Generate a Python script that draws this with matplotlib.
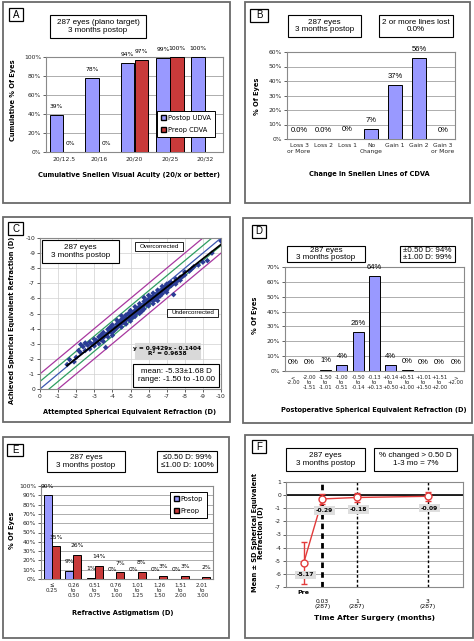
import matplotlib
matplotlib.use('Agg')
import matplotlib.pyplot as plt
from matplotlib.patches import Rectangle, Patch
import matplotlib.transforms as mtrans
import numpy as np

# ---------------- data ----------------
a_cats = ['20/12.5', '20/16', '20/20', '20/25', '20/32']
a_postop = [39, 78, 94, 99, 100]
a_preop = [0, 0, 97, 100, np.nan]
a_postop_lbl = ['39%', '78%', '94%', '99%', '100%']
a_preop_lbl = ['0%', '0%', '97%', '100%', '']

b_cats = ['Loss 3\nor More', 'Loss 2', 'Loss 1', 'No\nChange', 'Gain 1', 'Gain 2', 'Gain 3\nor More']
b_vals = [0, 0, 0.3, 7, 37, 56, 0]
b_lbls = ['0.0%', '0.0%', '0%', '7%', '37%', '56%', '0%']

c_att = [-1.50, -1.63, -1.88, -2.00, -2.13, -2.25, -2.25, -2.38, -2.50, -2.50, -2.63, -2.75, -2.75, -2.88,
         -3.00, -3.00, -3.00, -3.13, -3.25, -3.25, -3.38, -3.38, -3.50, -3.50, -3.50, -3.63, -3.63, -3.75,
         -3.75, -3.75, -3.88, -3.88, -4.00, -4.00, -4.00, -4.00, -4.13, -4.13, -4.25, -4.25, -4.25, -4.38,
         -4.38, -4.50, -4.50, -4.50, -4.50, -4.63, -4.63, -4.75, -4.75, -4.75, -4.75, -4.88, -4.88, -5.00,
         -5.00, -5.00, -5.00, -5.00, -5.13, -5.13, -5.25, -5.25, -5.25, -5.25, -5.38, -5.38, -5.50, -5.50,
         -5.50, -5.50, -5.50, -5.63, -5.63, -5.75, -5.75, -5.75, -5.75, -5.88, -5.88, -6.00, -6.00, -6.00,
         -6.00, -6.00, -6.13, -6.13, -6.25, -6.25, -6.25, -6.25, -6.38, -6.38, -6.50, -6.50, -6.50, -6.50,
         -6.63, -6.63, -6.75, -6.75, -6.75, -6.88, -6.88, -7.00, -7.00, -7.00, -7.00, -7.13, -7.13, -7.25,
         -7.25, -7.38, -7.38, -7.50, -7.50, -7.50, -7.63, -7.75, -7.75, -7.88, -8.00, -8.00, -8.25, -8.38,
         -8.50, -8.75, -9.00, -9.25, -9.50, -10.00]
c_ach = [-1.62, -1.95, -1.80, -2.10, -2.55, -2.95, -2.40, -2.80, -3.05, -2.55, -2.90, -3.10, -2.65, -2.95,
         -3.30, -2.85, -3.05, -3.20, -3.00, -3.45, -3.60, -3.25, -3.40, -3.75, -3.15, -3.55, -2.75, -3.70,
         -3.95, -3.45, -3.80, -4.10, -3.75, -4.00, -4.25, -3.55, -4.05, -3.90, -4.30, -4.05, -4.55, -4.20,
         -4.45, -4.35, -4.60, -4.10, -4.85, -4.40, -4.70, -4.55, -4.30, -4.90, -4.70, -4.65, -5.00, -4.70,
         -4.95, -5.20, -4.50, -4.85, -5.05, -4.75, -4.95, -5.20, -5.45, -4.80, -5.10, -5.35, -5.20, -5.45,
         -5.00, -5.65, -5.30, -5.40, -5.15, -5.55, -5.30, -5.80, -6.05, -5.60, -5.85, -5.70, -5.95, -5.50,
         -6.20, -5.80, -5.90, -6.10, -5.85, -6.10, -6.35, -5.65, -6.15, -5.95, -6.05, -6.30, -6.55, -5.85,
         -6.35, -6.15, -6.30, -6.55, -6.80, -6.50, -6.70, -6.55, -6.80, -6.95, -6.40, -6.75, -7.00, -6.85,
         -7.05, -6.25, -7.00, -7.10, -7.30, -6.95, -7.20, -7.40, -7.20, -7.45, -7.55, -7.75, -7.80, -7.95,
         -8.10, -8.20, -8.40, -8.50, -9.00, -9.80]
c_slope = 0.9429
c_int = -0.1404
c_ticks = [0, -1, -2, -3, -4, -5, -6, -7, -8, -9, -10]

d_cats = ['<\n-2.00', '-2.00\nto\n-1.51', '-1.50\nto\n-1.01', '-1.00\nto\n-0.51', '-0.50\nto\n-0.14',
          '-0.13\nto\n+0.13', '+0.14\nto\n+0.50', '+0.51\nto\n+1.00', '+1.01\nto\n+1.50', '+1.51\nto\n+2.00',
          '>\n+2.00']
d_vals = [0, 0, 1, 4, 26, 64, 4, 0.4, 0, 0, 0]
d_lbls = ['0%', '0%', '1%', '4%', '26%', '64%', '4%', '0%', '0%', '0%', '0%']

e_cats = ['≤\n0.25', '0.26\nto\n0.50', '0.51\nto\n0.75', '0.76\nto\n1.00', '1.01\nto\n1.25',
          '1.26\nto\n1.50', '1.51\nto\n2.00', '2.01\nto\n3.00']
e_postop = [90, 9, 1, 0, 0, 0, 0, 0]
e_preop = [35, 26, 14, 7, 8, 3, 3, 2]
e_postop_lbl = ['90%', '9%', '1%', '0%', '0%', '0%', '0%', '']
e_preop_lbl = ['35%', '26%', '14%', '7%', '8%', '3%', '3%', '2%']

f_x = [-0.5, 0.03, 1, 3]
f_mean = [-5.17, -0.29, -0.18, -0.09]
f_sd = [1.58, 0.38, 0.33, 0.32]
f_lbls = ['-5.17', '-0.29', '-0.18', '-0.09']
f_ticklbls = ['Pre', '0.03\n(287)', '1\n(287)', '3\n(287)']

# ---------------- styling ----------------
W, H = 474, 641
fig = plt.figure(figsize=(W / 100, H / 100), dpi=100)
fig.patch.set_facecolor('white')

LAV = '#9999FF'
RED = '#C83A3A'
GRID = '#a0a0a0'
SPINE = '#8a8a8a'
TICK_FS = 4.3
LAB_FS = 4.8
ARIAL = 'Liberation Sans'


def rect(x0, y0, x1, y1):
    return [x0 / W, 1 - y1 / H, (x1 - x0) / W, (y1 - y0) / H]


def frame(x0, y0, x1, y1, ec='#6a6a6a', lw=1.3, fc=None, z=0.5):
    fig.patches.append(Rectangle((x0 / W, 1 - y1 / H), (x1 - x0) / W, (y1 - y0) / H,
                                 transform=fig.transFigure, fill=fc is not None,
                                 facecolor=fc if fc else 'none', edgecolor=ec, lw=lw, zorder=z))


def box(x0, y0, x1, y1, text, fs=5.8, fc='white', ec='black', lw=0.8, weight='normal', family=ARIAL):
    frame(x0, y0, x1, y1, ec=ec, lw=lw, fc=fc, z=5)
    fig.text((x0 + x1) / 2 / W, 1 - (y0 + y1) / 2 / H, text, ha='center', va='center',
             fontsize=fs, family=family, weight=weight, linespacing=1.15, zorder=6)


def letter(x0, y0, x1, y1, t):
    box(x0, y0, x1, y1, t, fs=7, lw=0.9)


def ftext(x, y, t, rot=0, fs=LAB_FS, **kw):
    fig.text(x / W, 1 - y / H, t, ha='center', va='center', rotation=rot, fontsize=fs,
             weight='bold', family='DejaVu Sans', zorder=6, **kw)


def style(ax, ylim, yticks, ylabels):
    ax.set_ylim(*ylim)
    ax.set_yticks(yticks)
    ax.set_yticklabels(ylabels)
    ax.yaxis.grid(True, color=GRID, lw=0.6)
    ax.set_axisbelow(True)
    for s in ax.spines.values():
        s.set_color(SPINE)
        s.set_linewidth(0.8)
    ax.tick_params(axis='both', labelsize=TICK_FS, length=2, width=0.5, pad=1.5, colors='#222222')
    ax.tick_params(axis='x', length=0, pad=3)


# ---------------- panel A ----------------
frame(3, 2, 230, 203)
letter(9, 8, 23, 21, 'A')
box(50, 15, 146, 38, '287 eyes (plano target)\n3 months postop')
ax = fig.add_axes(rect(46, 57, 223, 152))
xa = np.arange(len(a_cats))
ax.bar(xa - 0.2, a_postop, 0.38, color=LAV, edgecolor='black', lw=0.7, zorder=3)
pre = np.array(a_preop, dtype=float)
m = pre > 0
ax.bar(xa[m] + 0.2, pre[m], 0.38, color=RED, edgecolor='black', lw=0.7, zorder=3)
style(ax, (0, 100), range(0, 101, 20), [f'{v}%' for v in range(0, 101, 20)])
ax.set_xlim(-0.5, 4.5)
ax.set_xticks(xa)
ax.set_xticklabels(a_cats)
for i in range(len(a_cats)):
    ax.text(xa[i] - 0.2, a_postop[i] + 9, a_postop_lbl[i], ha='center', va='center', fontsize=4.3, clip_on=False)
    if a_preop_lbl[i]:
        ax.text(xa[i] + 0.2, (0 if np.isnan(pre[i]) else pre[i]) + 9, a_preop_lbl[i], ha='center', va='center',
                fontsize=4.3, clip_on=False)
leg = ax.legend(handles=[Patch(facecolor=LAV, edgecolor='black', label='Postop UDVA'),
                         Patch(facecolor=RED, edgecolor='black', label='Preop CDVA')],
                loc='center', bbox_to_anchor=(0.79, 0.295), fontsize=4.8, frameon=True, fancybox=False,
                edgecolor='black', framealpha=1, handlelength=0.7, handleheight=0.7, handletextpad=0.3,
                borderpad=0.6, labelspacing=0.9)
leg.get_frame().set_linewidth(0.7)
ftext(129, 175, 'Cumulative Snellen Visual Acuity (20/x or better)')
ftext(13, 100, 'Cumulative % Of Eyes', rot=90)

# ---------------- panel B ----------------
frame(245, 2, 470, 203)
letter(250, 9, 268, 22, 'B')
box(288, 15, 361, 37, '287 eyes\n3 months postop')
box(379, 15, 453, 37, '2 or more lines lost\n0.0%')
ax = fig.add_axes(rect(287, 52, 455, 139))
xb = np.arange(len(b_cats))
ax.bar(xb, b_vals, 0.62, color=LAV, edgecolor='black', lw=0.7, zorder=3)
style(ax, (0, 60), range(0, 61, 10), [f'{v}%' for v in range(0, 61, 10)])
ax.set_xlim(-0.5, 6.5)
ax.set_xticks(xb)
ax.set_xticklabels(b_cats, linespacing=1.1)
for i in range(len(b_cats)):
    ax.text(xb[i], b_vals[i] + 6, b_lbls[i], ha='center', va='center', fontsize=5.5, family=ARIAL,
            clip_on=False)
ftext(369, 174, 'Change in Snellen Lines of CDVA')
ftext(257, 96, '% Of Eyes', rot=90)

# ---------------- panel C ----------------
frame(3, 217, 230, 422)
letter(8, 222, 23, 235, 'C')
ax = fig.add_axes(rect(40, 238, 221, 389))
ax.set_xlim(0, -10)
ax.set_ylim(0, -10)
ax.set_xticks(c_ticks)
ax.set_yticks(c_ticks)
ax.set_xticklabels([str(t) for t in c_ticks])
ax.set_yticklabels([str(t) for t in c_ticks])
ax.grid(True, color='#d0d0d0', lw=0.5)
ax.set_axisbelow(True)
for s in ax.spines.values():
    s.set_color(SPINE)
    s.set_linewidth(0.8)
ax.tick_params(axis='both', labelsize=TICK_FS, length=2, width=0.5, pad=1.5, colors='#222222')
for off, col in [(1.0, '#A8379F'), (-1.0, '#A8379F'), (0.5, '#2E9E60'), (-0.5, '#2E9E60'), (0.0, '#3A56B0')]:
    ax.axline((0, off), (-10, -10 + off), color=col, lw=0.9, zorder=2)
ax.scatter(c_att, c_ach, marker='D', s=8, color='#2A3C95', edgecolors='none', zorder=3)
xr = np.array([min(c_att), max(c_att)])
ax.plot(xr, c_slope * xr + c_int, color='black', lw=1.3, zorder=4)
box(42, 240, 119, 263, '287 eyes\n3 months postop')
box(135, 242, 183, 251, 'Overcorrected', fs=4.5, lw=0.6)
box(167, 309, 218, 317, 'Undercorrected', fs=4.5, lw=0.6)
box(135, 343, 200, 359, f'y = {c_slope}x - {abs(c_int)}\nR² = 0.9638', fs=4.2, fc='#d9d9d9', ec='#d9d9d9',
    weight='bold', family='DejaVu Sans')
box(133, 364, 219, 387, 'mean: -5.33±1.68 D\nrange: -1.50 to -10.00', fs=5.8)
ftext(130, 412, 'Attempted Spherical Equivalent Refraction (D)')
ftext(12, 320, 'Achieved Spherical Equivalent Refraction (D)', rot=90)

# ---------------- panel D ----------------
frame(243, 218, 472, 423)
letter(252, 225, 266, 238, 'D')
box(287, 246, 365, 262, '287 eyes\n3 months postop')
box(400, 246, 455, 262, '±0.50 D: 94%\n±1.00 D: 99%')
ax = fig.add_axes(rect(285, 267, 464, 371))
xd = np.arange(len(d_cats))
ax.bar(xd, d_vals, 0.68, color=LAV, edgecolor='black', lw=0.7, zorder=3)
style(ax, (0, 70), range(0, 71, 10), [f'{v}%' for v in range(0, 71, 10)])
ax.set_xlim(-0.5, 10.5)
ax.set_xticks(xd)
ax.set_xticklabels(d_cats, fontsize=3.8, linespacing=1.0)
for i in range(len(d_cats)):
    ax.text(xd[i], d_vals[i] + 5.8, d_lbls[i], ha='center', va='center', fontsize=5.5, family=ARIAL,
            clip_on=False)
ftext(374, 410, 'Postoperative Spherical Equivalent Refraction (D)')
ftext(255, 315, '% Of Eyes', rot=90)

# ---------------- panel E ----------------
frame(3, 437, 229, 638)
letter(7, 444, 23, 456, 'E')
box(47, 451, 125, 472, '287 eyes\n3 months postop')
box(157, 451, 217, 472, '≤0.50 D: 99%\n≤1.00 D: 100%')
ax = fig.add_axes(rect(41, 486, 213, 579))
xe = np.arange(len(e_cats))
ax.bar(xe - 0.19, e_postop, 0.38, color=LAV, edgecolor='black', lw=0.7, zorder=3)
ax.bar(xe + 0.19, e_preop, 0.38, color=RED, edgecolor='black', lw=0.7, zorder=3)
style(ax, (0, 100), range(0, 101, 10), [f'{v}%' for v in range(0, 101, 10)])
ax.set_xlim(-0.5, 7.5)
ax.set_xticks(xe)
ax.set_xticklabels(e_cats, fontsize=4.0, linespacing=1.0)
for i in range(len(e_cats)):
    if e_postop_lbl[i]:
        ax.text(xe[i] - 0.19, e_postop[i] + 10, e_postop_lbl[i], ha='center', va='center', fontsize=4.3,
                clip_on=False)
    ax.text(xe[i] + 0.19, e_preop[i] + 10, e_preop_lbl[i], ha='center', va='center', fontsize=4.3,
            clip_on=False)
leg = ax.legend(handles=[Patch(facecolor=LAV, edgecolor='black', label='Postop'),
                         Patch(facecolor=RED, edgecolor='black', label='Preop')],
                loc='center', bbox_to_anchor=(0.858, 0.796), fontsize=4.8, frameon=True, fancybox=False,
                edgecolor='black', framealpha=1, handlelength=0.7, handleheight=0.7, handletextpad=0.3,
                borderpad=0.6, labelspacing=0.9)
leg.get_frame().set_linewidth(0.7)
ftext(123, 613, 'Refractive Astigmatism (D)')
ftext(12, 530, '% Of Eyes', rot=90)

# ---------------- panel F ----------------
frame(245, 435, 473, 638)
letter(252, 440, 266, 453, 'F')
box(286, 448, 365, 471, '287 eyes\n3 months postop')
box(374, 448, 457, 471, '% changed > 0.50 D\n1-3 mo = 7%')
ax = fig.add_axes(rect(286, 482, 463, 587))
style(ax, (-7, 1), range(-7, 2), [str(v) for v in range(-7, 2)])
ax.set_xlim(-1, 4)
ax.set_xticks([])
ax.axhline(0, color='black', lw=1.2, zorder=2)
for xv, lw in zip(f_x[1:], [2.0, 1.0, 1.0]):
    ax.axvline(xv, color='black', lw=lw, ls=(0, (2, 1.5)), zorder=2)
ax.errorbar(f_x, f_mean, yerr=f_sd, color='#E23B3B', lw=1.0, capsize=2, capthick=0.8, marker='o', ms=5,
            mfc='white', mec='#E23B3B', mew=1.0, zorder=4)
for xv, mv, lb in zip(f_x, f_mean, f_lbls):
    ax.text(xv + 0.05, mv - 0.9, lb, ha='center', va='center', fontsize=4.3, weight='bold', zorder=5,
            bbox=dict(boxstyle='square,pad=0.3', fc='#dedede', ec='none'))
trans = mtrans.blended_transform_factory(ax.transData, ax.transAxes)
for xv, lb in zip(f_x, f_ticklbls):
    if lb == 'Pre':
        ax.text(xv, -0.05, lb, transform=trans, ha='center', va='center', fontsize=4.5, weight='bold')
    else:
        ax.text(xv, -0.16, lb, transform=trans, ha='center', va='center', fontsize=4.3, linespacing=1.1)
ftext(374, 618, 'Time After Surgery (months)', fs=5.3)
ftext(258, 533, 'Mean ± SD Spherical Equivalent\nRefraction (D)', rot=90, linespacing=1.2)

fig.savefig('out.png', dpi=100, facecolor='white')
